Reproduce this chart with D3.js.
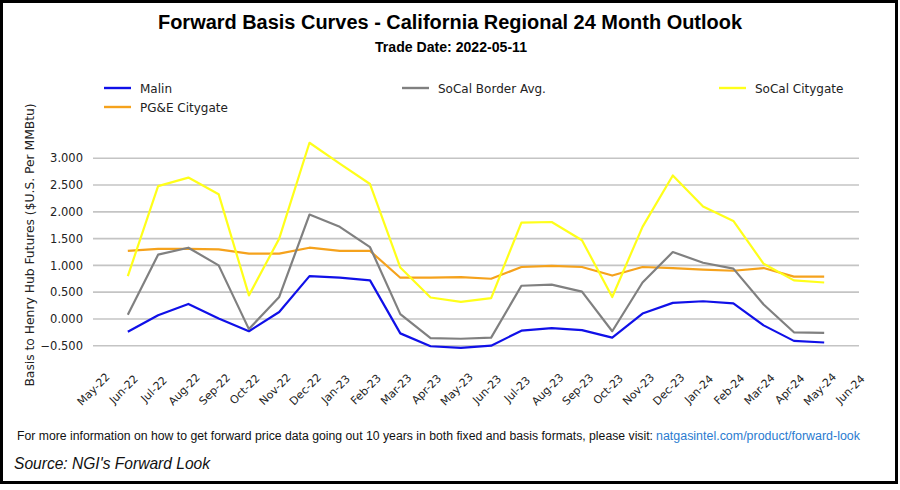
<!DOCTYPE html>
<html>
<head>
<meta charset="utf-8">
<script src="https://cdn.jsdelivr.net/npm/d3@7"></script>
<style>
  body { margin: 0; background: #fff; }
  svg { display: block; }
</style>
</head>
<body>
<div id="chart"></div>
<script>
// axis months (May-22 .. Jun-24), data runs Jun-22 .. May-24
const months = ["May-22", "Jun-22", "Jul-22", "Aug-22", "Sep-22", "Oct-22", "Nov-22", "Dec-22",
  "Jan-23", "Feb-23", "Mar-23", "Apr-23", "May-23", "Jun-23", "Jul-23", "Aug-23", "Sep-23",
  "Oct-23", "Nov-23", "Dec-23", "Jan-24", "Feb-24", "Mar-24", "Apr-24", "May-24", "Jun-24"];
const dataMonths = months.slice(1, 25);

const malin = [-0.24, 0.07, 0.28, 0.01, -0.23, 0.13, 0.80, 0.77, 0.72, -0.27, -0.51, -0.54,
  -0.50, -0.22, -0.17, -0.21, -0.35, 0.10, 0.30, 0.33, 0.29, -0.12, -0.41, -0.44];
const socalBorder = [0.08, 1.20, 1.33, 1.00, -0.19, 0.41, 1.95, 1.72, 1.34, 0.09, -0.36, -0.37,
  -0.35, 0.62, 0.64, 0.51, -0.23, 0.68, 1.25, 1.05, 0.94, 0.27, -0.25, -0.26];
const socalCitygate = [0.80, 2.48, 2.64, 2.33, 0.44, 1.50, 3.29, 2.90, 2.52, 0.96, 0.40, 0.32,
  0.39, 1.80, 1.81, 1.47, 0.41, 1.72, 2.68, 2.10, 1.83, 1.03, 0.72, 0.68];
const pgeCitygate = [1.27, 1.31, 1.31, 1.30, 1.22, 1.22, 1.33, 1.27, 1.27, 0.77, 0.77, 0.78,
  0.75, 0.97, 0.99, 0.97, 0.81, 0.97, 0.95, 0.92, 0.90, 0.95, 0.79, 0.79];

const yTicks = [-0.5, 0, 0.5, 1, 1.5, 2, 2.5, 3];

const series = [
  { name: "Malin", values: malin, color: "#1010e8" },
  { name: "PG&E Citygate", values: pgeCitygate, color: "#f5a21c" },
  { name: "SoCal Border Avg.", values: socalBorder, color: "#808080" },
  { name: "SoCal Citygate", values: socalCitygate, color: "#ffff1a" }
];

const W = 900, H = 490;
const svg = d3.select("#chart").append("svg").attr("width", W).attr("height", H);

// frame
svg.append("rect")
  .attr("x", 1.5).attr("y", 1.5).attr("width", 895).attr("height", 481)
  .attr("fill", "#fff").attr("stroke", "#000").attr("stroke-width", 3);

// titles
svg.append("text")
  .attr("x", 450).attr("y", 29).attr("text-anchor", "middle")
  .attr("font-family", "Liberation Sans, Arial, sans-serif")
  .attr("font-weight", "bold").attr("font-size", 20)
  .attr("textLength", 584).attr("lengthAdjust", "spacingAndGlyphs")
  .text("Forward Basis Curves - California Regional 24 Month Outlook");

svg.append("text")
  .attr("x", 451).attr("y", 52).attr("text-anchor", "middle")
  .attr("font-family", "Liberation Sans, Arial, sans-serif")
  .attr("font-weight", "bold").attr("font-size", 14)
  .attr("textLength", 152).attr("lengthAdjust", "spacingAndGlyphs")
  .text("Trade Date: 2022-05-11");

// scales
const x = d3.scalePoint().domain(months).range([93, 859]).padding(0.15);
const y = d3.scaleLinear().domain([-0.5, 3]).range([345.7, 158.3]);

// grid
svg.append("g")
  .selectAll("line")
  .data(yTicks)
  .join("line")
  .attr("x1", 93).attr("x2", 859)
  .attr("y1", d => y(d)).attr("y2", d => y(d))
  .attr("stroke", "#c4c4c4").attr("stroke-width", 1.6);

// y axis labels
const yAxis = svg.append("g")
  .attr("transform", "translate(93,0)")
  .call(d3.axisLeft(y).tickValues(yTicks).tickFormat(d3.format(".3f")).tickSize(0).tickPadding(10));
yAxis.select(".domain").remove();
yAxis.selectAll("text")
  .attr("font-family", "DejaVu Sans, sans-serif")
  .attr("font-size", 11.5)
  .attr("fill", "#222");

svg.append("text")
  .attr("transform", "translate(34,245) rotate(-90)")
  .attr("text-anchor", "middle")
  .attr("font-family", "DejaVu Sans, sans-serif")
  .attr("font-size", 12.3).attr("fill", "#222")
  .text("Basis to Henry Hub Futures ($U.S. Per MMBtu)");

// x axis labels
const xAxis = svg.append("g")
  .attr("transform", "translate(0,346)")
  .call(d3.axisBottom(x).tickSize(0));
xAxis.select(".domain").remove();
xAxis.selectAll("text")
  .attr("font-family", "DejaVu Sans, sans-serif")
  .attr("font-size", 11)
  .attr("fill", "#222")
  .attr("text-anchor", "middle")
  .attr("y", 0).attr("dy", 0)
  .attr("transform", "translate(-2,46) rotate(-45)");

// lines
const line = d3.line()
  .x((d, i) => x(dataMonths[i]))
  .y(d => y(d));

svg.append("g")
  .selectAll("path")
  .data(series)
  .join("path")
  .attr("d", d => line(d.values))
  .attr("fill", "none")
  .attr("stroke", d => d.color)
  .attr("stroke-width", 2.2)
  .attr("stroke-linejoin", "round");

// legend
const legendPos = {
  "Malin": [104, 88],
  "SoCal Border Avg.": [402, 88],
  "SoCal Citygate": [719, 88],
  "PG&E Citygate": [104, 107]
};
const legend = svg.append("g")
  .selectAll("g")
  .data(series)
  .join("g")
  .attr("transform", d => `translate(${legendPos[d.name][0]},${legendPos[d.name][1]})`);
legend.append("line")
  .attr("x1", 0).attr("x2", 27)
  .attr("stroke", d => d.color).attr("stroke-width", 2.4);
legend.append("text")
  .attr("x", 36).attr("y", 4.5)
  .attr("font-family", "DejaVu Sans, sans-serif")
  .attr("font-size", 12).attr("fill", "#222")
  .text(d => d.name);

// footer
svg.append("text")
  .attr("x", 17).attr("y", 440)
  .attr("font-family", "Liberation Sans, Arial, sans-serif")
  .attr("font-size", 12.5).attr("fill", "#111")
  .attr("textLength", 636).attr("lengthAdjust", "spacingAndGlyphs")
  .text("For more information on how to get forward price data going out 10 years in both fixed and basis formats, please visit:");
svg.append("text")
  .attr("x", 656).attr("y", 440)
  .attr("font-family", "Liberation Sans, Arial, sans-serif")
  .attr("font-size", 12.5).attr("fill", "#2a7bd0")
  .attr("textLength", 204).attr("lengthAdjust", "spacingAndGlyphs")
  .text("natgasintel.com/product/forward-look");
svg.append("text")
  .attr("x", 14).attr("y", 469)
  .attr("font-family", "Liberation Sans, Arial, sans-serif")
  .attr("font-style", "italic")
  .attr("font-size", 16.5).attr("fill", "#111")
  .attr("textLength", 196).attr("lengthAdjust", "spacingAndGlyphs")
  .text("Source: NGI's Forward Look");
</script>
</body>
</html>
